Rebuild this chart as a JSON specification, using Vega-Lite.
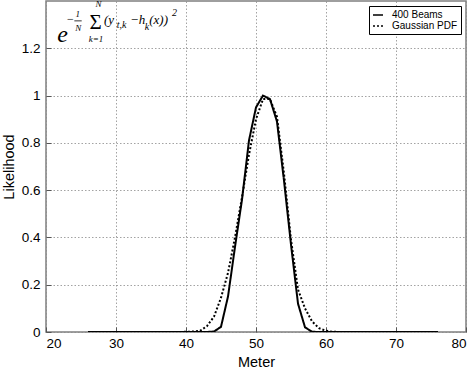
{
  "$schema": "https://vega.github.io/schema/vega-lite/v6.json",
  "width": 420,
  "height": 331,
  "autosize": {"type": "none"},
  "padding": {"left": 46, "top": 1, "right": 8, "bottom": 37},
  "background": "white",
  "config": {
    "view": {"stroke": "#7f7f7f", "strokeWidth": 1.5},
    "font": "Liberation Sans",
    "axis": {
      "domain": false,
      "grid": true,
      "gridColor": "#8c8c8c",
      "gridDash": [1.5, 2],
      "gridWidth": 0.8,
      "ticks": true,
      "tickColor": "#555555",
      "tickSize": -5,
      "labelFont": "Liberation Sans",
      "labelFontSize": 13.5,
      "labelColor": "#000000",
      "titleFont": "Liberation Sans",
      "titleFontSize": 14.5,
      "titleFontWeight": "normal",
      "titleColor": "#000000"
    }
  },
  "datasets": {
    "curves": [
      {"m": 26, "L": 0, "s": "400 Beams"},
      {"m": 30, "L": 0, "s": "400 Beams"},
      {"m": 35, "L": 0, "s": "400 Beams"},
      {"m": 40, "L": 0, "s": "400 Beams"},
      {"m": 43, "L": 0, "s": "400 Beams"},
      {"m": 44, "L": 0.002, "s": "400 Beams"},
      {"m": 45, "L": 0.022, "s": "400 Beams"},
      {"m": 46, "L": 0.15, "s": "400 Beams"},
      {"m": 47, "L": 0.36, "s": "400 Beams"},
      {"m": 48, "L": 0.56, "s": "400 Beams"},
      {"m": 49, "L": 0.81, "s": "400 Beams"},
      {"m": 50, "L": 0.95, "s": "400 Beams"},
      {"m": 51, "L": 1.0, "s": "400 Beams"},
      {"m": 52, "L": 0.985, "s": "400 Beams"},
      {"m": 53, "L": 0.89, "s": "400 Beams"},
      {"m": 54, "L": 0.64, "s": "400 Beams"},
      {"m": 55, "L": 0.37, "s": "400 Beams"},
      {"m": 56, "L": 0.12, "s": "400 Beams"},
      {"m": 57, "L": 0.02, "s": "400 Beams"},
      {"m": 58, "L": 0.001, "s": "400 Beams"},
      {"m": 59, "L": 0, "s": "400 Beams"},
      {"m": 65, "L": 0, "s": "400 Beams"},
      {"m": 70, "L": 0, "s": "400 Beams"},
      {"m": 76, "L": 0, "s": "400 Beams"},
      {"m": 26, "L": 0, "s": "Gaussian PDF"},
      {"m": 30, "L": 0, "s": "Gaussian PDF"},
      {"m": 35, "L": 0, "s": "Gaussian PDF"},
      {"m": 39, "L": 0, "s": "Gaussian PDF"},
      {"m": 40, "L": 0.001, "s": "Gaussian PDF"},
      {"m": 41, "L": 0.002, "s": "Gaussian PDF"},
      {"m": 42, "L": 0.005, "s": "Gaussian PDF"},
      {"m": 43, "L": 0.025, "s": "Gaussian PDF"},
      {"m": 44, "L": 0.065, "s": "Gaussian PDF"},
      {"m": 45, "L": 0.145, "s": "Gaussian PDF"},
      {"m": 46, "L": 0.25, "s": "Gaussian PDF"},
      {"m": 47, "L": 0.4, "s": "Gaussian PDF"},
      {"m": 48, "L": 0.57, "s": "Gaussian PDF"},
      {"m": 49, "L": 0.75, "s": "Gaussian PDF"},
      {"m": 50, "L": 0.9, "s": "Gaussian PDF"},
      {"m": 51, "L": 0.985, "s": "Gaussian PDF"},
      {"m": 52, "L": 0.985, "s": "Gaussian PDF"},
      {"m": 53, "L": 0.91, "s": "Gaussian PDF"},
      {"m": 54, "L": 0.67, "s": "Gaussian PDF"},
      {"m": 55, "L": 0.39, "s": "Gaussian PDF"},
      {"m": 56, "L": 0.18, "s": "Gaussian PDF"},
      {"m": 57, "L": 0.1, "s": "Gaussian PDF"},
      {"m": 58, "L": 0.045, "s": "Gaussian PDF"},
      {"m": 59, "L": 0.016, "s": "Gaussian PDF"},
      {"m": 60, "L": 0.005, "s": "Gaussian PDF"},
      {"m": 61, "L": 0.001, "s": "Gaussian PDF"},
      {"m": 62, "L": 0, "s": "Gaussian PDF"},
      {"m": 65, "L": 0, "s": "Gaussian PDF"},
      {"m": 70, "L": 0, "s": "Gaussian PDF"},
      {"m": 76, "L": 0, "s": "Gaussian PDF"}
    ]
  },
  "layer": [
    {
      "data": {"name": "curves"},
      "mark": {"type": "line", "color": "black", "strokeWidth": 2, "clip": true},
      "encoding": {
        "x": {
          "field": "m",
          "type": "quantitative",
          "scale": {"domain": [20, 80], "nice": false},
          "axis": {"values": [20, 30, 40, 50, 60, 70, 80], "title": "Meter", "labelPadding": 9, "titlePadding": 6}
        },
        "y": {
          "field": "L",
          "type": "quantitative",
          "scale": {"domain": [0, 1.4], "nice": false},
          "axis": {"values": [0, 0.2, 0.4, 0.6, 0.8, 1, 1.2], "format": "~g", "title": "Likelihood", "labelPadding": 11, "titlePadding": 5}
        },
        "strokeDash": {
          "field": "s",
          "type": "nominal",
          "scale": {"domain": ["400 Beams", "Gaussian PDF"], "range": [[1, 0], [2, 2]]},
          "legend": {
            "title": null,
            "orient": "top-right",
            "offset": 5,
            "strokeColor": "black",
            "fillColor": "white",
            "padding": 3,
            "cornerRadius": 0,
            "labelFont": "Liberation Sans",
            "labelFontSize": 10,
            "labelColor": "black",
            "labelOffset": 8,
            "symbolType": "stroke",
            "symbolSize": 100,
            "symbolStrokeWidth": 1.5,
            "symbolStrokeColor": "black",
            "rowPadding": 0
          }
        }
      }
    },
    {
      "data": {"values": [{"m": 22.36, "L": 1.256, "t": "e"}]},
      "mark": {"type": "text", "font": "Liberation Serif", "fontStyle": "italic", "fontSize": 24, "align": "center", "baseline": "middle", "color": "black"},
      "encoding": {"x": {"field": "m", "type": "quantitative"}, "y": {"field": "L", "type": "quantitative"}, "text": {"field": "t"}}
    },
    {
      "data": {"values": [{"m": 27.07, "L": 1.306, "t": "Σ"}]},
      "mark": {"type": "text", "font": "Liberation Serif", "fontSize": 21, "align": "center", "baseline": "middle", "color": "black"},
      "encoding": {"x": {"field": "m", "type": "quantitative"}, "y": {"field": "L", "type": "quantitative"}, "text": {"field": "t"}}
    },
    {
      "data": {"values": [{"m": 23.5, "L": 1.322, "t": "−"}]},
      "mark": {"type": "text", "font": "Liberation Serif", "fontSize": 12, "align": "center", "baseline": "middle", "color": "black"},
      "encoding": {"x": {"field": "m", "type": "quantitative"}, "y": {"field": "L", "type": "quantitative"}, "text": {"field": "t"}}
    },
    {
      "data": {"values": [{"m": 24.05, "m2": 25.1, "L": 1.316}]},
      "mark": {"type": "rule", "color": "black", "strokeWidth": 0.8},
      "encoding": {"x": {"field": "m", "type": "quantitative"}, "x2": {"field": "m2"}, "y": {"field": "L", "type": "quantitative"}}
    },
    {
      "data": {"values": [
        {"m": 28.29, "L": 1.32, "t": "(y"},
        {"m": 32.0, "L": 1.32, "t": "−h"},
        {"m": 34.75, "L": 1.32, "t": "(x))"}
      ]},
      "mark": {"type": "text", "font": "Liberation Serif", "fontStyle": "italic", "fontSize": 13, "align": "left", "baseline": "middle", "color": "black"},
      "encoding": {"x": {"field": "m", "type": "quantitative"}, "y": {"field": "L", "type": "quantitative"}, "text": {"field": "t"}}
    },
    {
      "data": {"values": [
        {"m": 30.1, "L": 1.297, "t": "t,k"},
        {"m": 34.1, "L": 1.29, "t": "k"},
        {"m": 38.0, "L": 1.348, "t": "2"}
      ]},
      "mark": {"type": "text", "font": "Liberation Serif", "fontStyle": "italic", "fontSize": 10, "align": "left", "baseline": "middle", "color": "black"},
      "encoding": {"x": {"field": "m", "type": "quantitative"}, "y": {"field": "L", "type": "quantitative"}, "text": {"field": "t"}}
    },
    {
      "data": {"values": [
        {"m": 24.55, "L": 1.343, "t": "1"},
        {"m": 24.6, "L": 1.286, "t": "N"},
        {"m": 27.5, "L": 1.388, "t": "N"},
        {"m": 27.14, "L": 1.24, "t": "k=1"}
      ]},
      "mark": {"type": "text", "font": "Liberation Serif", "fontStyle": "italic", "fontSize": 9, "align": "center", "baseline": "middle", "color": "black"},
      "encoding": {"x": {"field": "m", "type": "quantitative"}, "y": {"field": "L", "type": "quantitative"}, "text": {"field": "t"}}
    }
  ]
}
